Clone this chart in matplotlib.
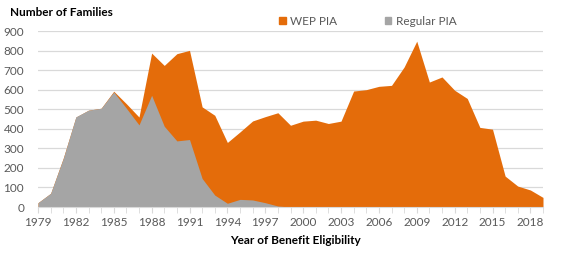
import matplotlib
matplotlib.use("Agg")
import matplotlib.pyplot as plt
from matplotlib.patches import Patch

years = list(range(1979, 2020))
wep_pia = [22, 70, 250, 460, 495, 505, 592, 528, 460, 787, 724, 784, 801, 512, 469,
           330, 384, 440, 462, 482, 418, 439, 444, 427, 439, 593, 600, 617, 622, 716,
           848, 639, 665, 597, 555, 407, 398, 158, 107, 87, 49]
regular_pia = [22, 70, 248, 461, 495, 505, 588, 505, 420, 571, 413, 338, 345, 146, 61,
               19, 39, 36, 22, 5, 0, 0, 0, 0, 0, 0, 0, 0, 0, 0,
               0, 0, 0, 0, 0, 0, 0, 0, 0, 0, 0]
yticks = list(range(0, 1000, 100))
xtick_years = list(range(1979, 2020, 3))

orange = "#E46C0A"
gray = "#A5A5A5"
txt = "#595959"

plt.rcParams['font.family'] = ['Lato', 'DejaVu Sans']

fig = plt.figure(figsize=(5.76, 2.59), dpi=100)
ax = fig.add_axes([38 / 576, 1 - 207 / 259, (543 - 38) / 576, (207 - 31) / 259])

ax.fill_between(years, 0, wep_pia, color=orange, linewidth=0, zorder=2)
ax.fill_between(years, 0, regular_pia, color=gray, linewidth=0, zorder=3)

ax.set_xlim(1979, 2019)
ax.set_ylim(0, 900)
ax.set_yticks(yticks)
ax.set_xticks(years, minor=True)
ax.set_xticks(xtick_years)
ax.grid(axis="y", color="#D9D9D9", linewidth=0.9, zorder=1)
ax.set_axisbelow(True)

for s in ["top", "right", "left"]:
    ax.spines[s].set_visible(False)
ax.spines["bottom"].set_color("#D9D9D9")
ax.spines["bottom"].set_zorder(4)

ax.tick_params(axis="y", length=0, labelsize=8.5, labelcolor=txt, pad=10)
ax.tick_params(axis="x", which="both", length=4, color="#D9D9D9", direction="out")
ax.tick_params(axis="x", labelsize=8.5, labelcolor=txt, pad=3)

fig.text(10 / 576, 1 - 12 / 259, "Number of Families", fontsize=8.5, fontweight="bold",
         ha="left", va="center")
fig.text(295 / 576, 1 - 241 / 259, "Year of Benefit Eligibility", fontsize=8.5,
         fontweight="bold", ha="center", va="center")

handles = [Patch(color=orange, label="WEP PIA"), Patch(color=gray, label="Regular PIA")]
leg = fig.legend(handles=handles, loc="center", bbox_to_anchor=(368 / 576, 1 - 21 / 259),
                 ncol=2, frameon=False, fontsize=8.5, handlelength=0.55, handleheight=0.55,
                 handletextpad=0.4, columnspacing=4.0)
for t in leg.get_texts():
    t.set_color(txt)

fig.savefig("out.png", dpi=100)
